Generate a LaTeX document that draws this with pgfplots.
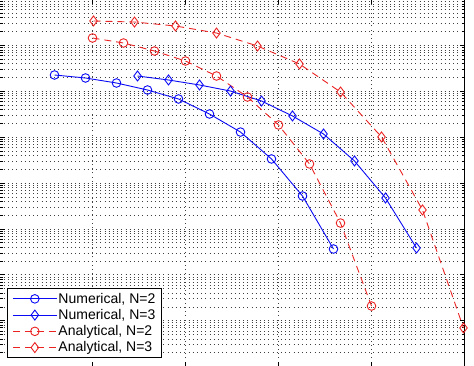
\documentclass[border=0pt]{standalone}
\usepackage{pgfplots}
\pgfplotsset{compat=1.18}
\usepackage{fontspec}
\setmainfont{Liberation Sans}
\definecolor{mblue}{RGB}{10,10,245}
\definecolor{mred}{RGB}{235,35,35}
\begin{document}
\begin{tikzpicture}
\begin{axis}[
  scale only axis, width=465pt, height=367pt,
  at={(0pt,0pt)}, anchor=south west,
  xmin=0, xmax=465, ymode=log, ymin=1e-8, ymax=1,
  xtick={0,93,186,279,372,465},
  ytick={1e-8,1e-7,1e-6,1e-5,1e-4,1e-3,1e-2,1e-1,1},
  xticklabels={}, yticklabels={},
  xmajorgrids=true, ymajorgrids=true, yminorgrids=true,
  major grid style={black!75, line width=0.6pt, dash pattern=on 0.8pt off 3.4pt},
  minor grid style={black!75, line width=0.6pt, dash pattern=on 0.8pt off 3.4pt},
  tick align=inside, major tick length=5pt, minor tick length=3pt,
  tick style={black, line width=0.6pt},
  axis line style={black, line width=0.7pt},
  legend style={at={(0.016,0.023)}, anchor=south west, draw=black, line width=0.9pt,
    font=\fontsize{14}{16}\selectfont, inner xsep=5pt, inner ysep=3pt,
    nodes={inner sep=1.2pt}, row sep=2.2pt},
  legend cell align=left,
  legend image code/.code={
    \draw[#1, mark repeat=2, mark phase=2] plot coordinates {(0pt,0pt) (22pt,0pt) (44pt,0pt)};
  },
]
\addplot[mblue, line width=0.9pt, mark=o, mark size=4.3pt, mark options={solid}] coordinates {
(55,2.261e-2) (86,1.945e-2) (117,1.513e-2) (148,1.065e-2) (179,6.78e-3)
(210,3.19e-3) (241,1.29e-3) (272,3.34e-4) (303,5.21e-5) (334,3.64e-6)};
\addlegendentry{Numerical, N=2}
\addplot[mblue, line width=0.9pt, mark=diamond, mark size=5pt, mark options={solid}] coordinates {
(138,2.15e-2) (169,1.76e-2) (200,1.37e-2) (231,1.01e-2) (262,6.13e-3)
(293,2.89e-3) (324,1.17e-3) (355,3.02e-4) (386,4.71e-5) (417,3.83e-6)};
\addlegendentry{Numerical, N=3}
\addplot[mred, line width=0.9pt, dash pattern=on 7pt off 5pt, mark=o, mark size=4.3pt, mark options={solid}] coordinates {
(93,0.1448) (124,0.1127) (155,7.54e-2) (186,4.56e-2) (217,2.15e-2)
(248,7.49e-3) (279,1.84e-3) (310,2.60e-4) (341,1.34e-5) (372,2.08e-7)};
\addlegendentry{Analytical, N=2}
\addplot[mred, line width=0.9pt, dash pattern=on 7pt off 5pt, mark=diamond, mark size=5pt, mark options={solid}] coordinates {
(94,0.340) (135,0.323) (176,0.2645) (217,0.186) (258,9.69e-2)
(300,3.93e-2) (341,9.63e-3) (382,1.01e-3) (423,2.58e-5) (464,6.91e-8)};
\addlegendentry{Analytical, N=3}
\end{axis}
\pgfresetboundingbox
\path[use as bounding box] (0.5pt,0.5pt) rectangle (474.5pt,366.5pt);
\end{tikzpicture}
\end{document}
